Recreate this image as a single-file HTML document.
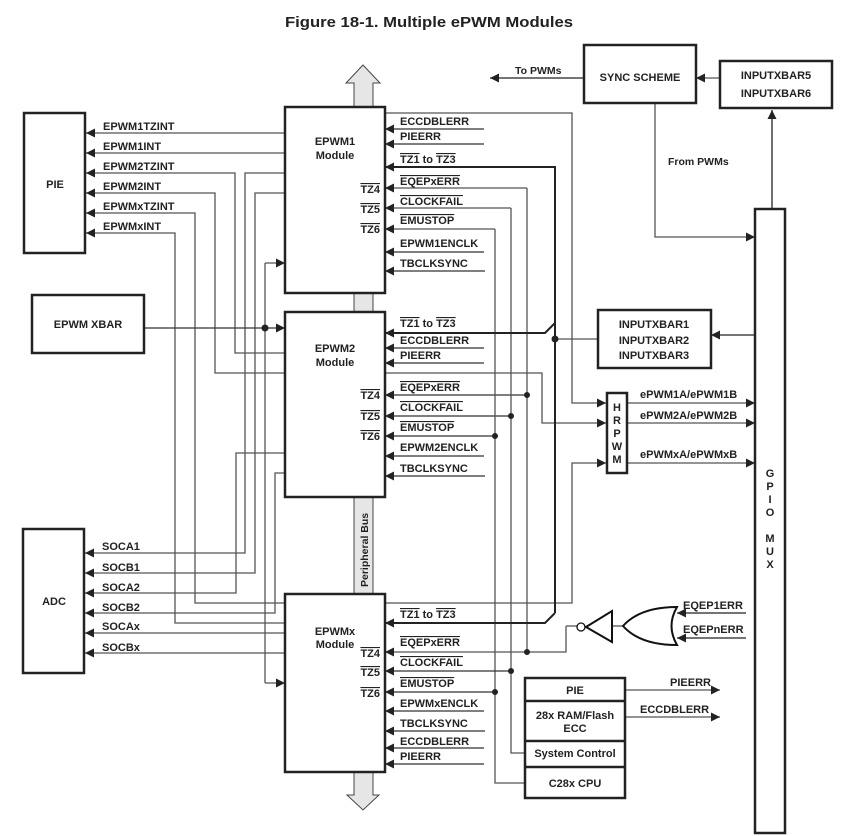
<!DOCTYPE html>
<html><head><meta charset="utf-8"><style>
html,body{margin:0;padding:0;background:#fff;}
svg{display:block;}
text{font-family:"Liberation Sans",Arial,sans-serif;font-weight:bold;font-size:11px;fill:#222;}
.ol{text-decoration:overline;}
</style></head><body>
<svg width="847" height="836" viewBox="0 0 847 836" xmlns="http://www.w3.org/2000/svg">
<defs>
<marker id="a" viewBox="0 0 10 10" refX="10" refY="5" markerWidth="9" markerHeight="9" markerUnits="userSpaceOnUse" orient="auto"><path d="M0,0L10,5L0,10z" fill="#222"/></marker>
</defs>
<text x="285" y="27" textLength="288" lengthAdjust="spacingAndGlyphs" style="font-size:15px" fill="#000">Figure 18-1. Multiple ePWM Modules</text>

<!-- peripheral bus -->
<path d="M363,65 L346,83 L354,83 L354,795 L347,795 L363,810 L379,795 L373,795 L373,83 L380,83 Z" fill="#e6e6e6" stroke="#444" stroke-width="1"/>
<text transform="translate(368,587) rotate(-90)" style="font-size:10.5px">Peripheral Bus</text>

<g fill="none" stroke="#555" stroke-width="1.3">
<path d="M285,133H86" marker-end="url(#a)"/>
<path d="M285,153H86" marker-end="url(#a)"/>
<path d="M285,353H235V173H86" marker-end="url(#a)"/>
<path d="M285,373H215V193H86" marker-end="url(#a)"/>
<path d="M285,603H195V213H86" marker-end="url(#a)"/>
<path d="M285,623H175V233H86" marker-end="url(#a)"/>
<path d="M285,173H245V553H85" marker-end="url(#a)"/>
<path d="M285,193H255V573H85" marker-end="url(#a)"/>
<path d="M285,453H236V593H85" marker-end="url(#a)"/>
<path d="M285,473H275V613H85" marker-end="url(#a)"/>
<path d="M285,633H85" marker-end="url(#a)"/>
<path d="M285,653H85" marker-end="url(#a)"/>
<path d="M144,328H285" marker-end="url(#a)" stroke="#333"/>
<path d="M265,263V683" />
<path d="M265,263H285" marker-end="url(#a)"/>
<path d="M265,683H285" marker-end="url(#a)"/>

<path d="M484,129H385" marker-end="url(#a)" stroke="#333"/>
<path d="M484,144H385" marker-end="url(#a)" stroke="#333"/>
<path d="M527,188H385" marker-end="url(#a)"/>
<path d="M511,208H385" marker-end="url(#a)"/>
<path d="M495,229H385" marker-end="url(#a)"/>
<path d="M484,252H385" marker-end="url(#a)" stroke="#333"/>
<path d="M485,271H385" marker-end="url(#a)" stroke="#333"/>
<path d="M484,348H385" marker-end="url(#a)" stroke="#333"/>
<path d="M484,363H385" marker-end="url(#a)" stroke="#333"/>
<path d="M527,395H385" marker-end="url(#a)" stroke="#333"/>
<path d="M511,416H385" marker-end="url(#a)" stroke="#333"/>
<path d="M495,436H385" marker-end="url(#a)" stroke="#333"/>
<path d="M484,456H385" marker-end="url(#a)" stroke="#333"/>
<path d="M485,476H385" marker-end="url(#a)" stroke="#333"/>
<path d="M566,626V652H385" marker-end="url(#a)"/>
<path d="M527,188V652"/>
<path d="M511,208V753H525"/>
<path d="M495,229V783H525"/>
<path d="M511,671H385" marker-end="url(#a)" stroke="#333"/>
<path d="M495,692H385" marker-end="url(#a)" stroke="#333"/>
<path d="M484,711H385" marker-end="url(#a)" stroke="#333"/>
<path d="M485,731H385" marker-end="url(#a)" stroke="#333"/>
<path d="M484,748H385" marker-end="url(#a)" stroke="#333"/>
<path d="M484,764H385" marker-end="url(#a)" stroke="#333"/>
<path d="M566,626H577"/>

<path d="M385,113H572V403H606" marker-end="url(#a)"/>
<path d="M385,373H542V423H606" marker-end="url(#a)"/>
<path d="M385,603H572V463H606" marker-end="url(#a)"/>
<path d="M627,403H755" marker-end="url(#a)"/>
<path d="M627,423H755" marker-end="url(#a)"/>
<path d="M627,463H755" marker-end="url(#a)"/>

<path d="M755,335H711" marker-end="url(#a)" stroke="#222"/>
<path d="M598,339H555"/>

<path d="M584,78H490" marker-end="url(#a)" stroke="#222"/>
<path d="M720,78H696" marker-end="url(#a)"/>
<path d="M655,103V237H755" marker-end="url(#a)"/>
<path d="M772,209V110" marker-end="url(#a)" stroke="#222"/>

<path d="M625,690H720" marker-end="url(#a)"/>
<path d="M625,717H720" marker-end="url(#a)"/>
<path d="M746,613H677" marker-end="url(#a)" stroke="#222"/>
<path d="M746,638H677" marker-end="url(#a)" stroke="#222"/>
<path d="M612,626H623"/>
</g>

<g fill="none" stroke="#222" stroke-width="2">
<path d="M555,613V167H385" marker-end="url(#a)"/>
<path d="M555,323L545,333H385" marker-end="url(#a)"/>
<path d="M555,613L545,623H385" marker-end="url(#a)"/>
</g>
<g fill="#222">
<circle cx="265" cy="328" r="3.5"/>
<circle cx="555" cy="339" r="3.5"/>
<circle cx="527" cy="395" r="3"/>
<circle cx="511" cy="416" r="3"/>
<circle cx="495" cy="436" r="3"/>
<circle cx="527" cy="652" r="3"/>
<circle cx="511" cy="671" r="3"/>
<circle cx="495" cy="692" r="3"/>
</g>

<g fill="#fff" stroke="#111" stroke-width="2">
<circle cx="581" cy="627" r="4" stroke-width="1.3"/>
<path d="M586,627L612,611V642Z"/>
<path d="M623,626 Q640,607 677,607 Q666,626 677,645 Q640,645 623,626Z"/>
</g>

<g fill="#fff" stroke="#222" stroke-width="2.5">
<rect x="24" y="113" width="61" height="140"/>
<rect x="32" y="295" width="112" height="58"/>
<rect x="23" y="529" width="61" height="144"/>
<rect x="285" y="107" width="100" height="186"/>
<rect x="285" y="312" width="100" height="185"/>
<rect x="285" y="594" width="100" height="178"/>
<rect x="607" y="393" width="20" height="80"/>
<rect x="598" y="310" width="113" height="58"/>
<rect x="584" y="45" width="112" height="58"/>
<rect x="720" y="61" width="112" height="47"/>
<rect x="755" y="209" width="30" height="624"/>
<rect x="525" y="678" width="100" height="120"/>
<path d="M525,701H625M525,741H625M525,767H625" fill="none"/>
</g>

<g text-anchor="middle">
<text x="55" y="188">PIE</text>
<text x="88" y="328">EPWM XBAR</text>
<text x="54" y="605">ADC</text>
<text x="335" y="145">EPWM1</text><text x="335" y="159">Module</text>
<text x="335" y="352">EPWM2</text><text x="335" y="366">Module</text>
<text x="335" y="635">EPWMx</text><text x="335" y="648">Module</text>
<text x="654" y="328">INPUTXBAR1</text><text x="654" y="344">INPUTXBAR2</text><text x="654" y="359">INPUTXBAR3</text>
<text x="640" y="81">SYNC SCHEME</text>
<text x="776" y="79">INPUTXBAR5</text><text x="776" y="97">INPUTXBAR6</text>
<text x="575" y="694">PIE</text>
<text x="575" y="719">28x RAM/Flash</text><text x="575" y="732">ECC</text>
<text x="575" y="757">System Control</text>
<text x="575" y="787">C28x CPU</text>
<text x="617" y="411">H</text><text x="617" y="424">R</text><text x="617" y="437">P</text><text x="617" y="450">W</text><text x="617" y="463">M</text>
<text x="770" y="477">G</text><text x="770" y="490">P</text><text x="770" y="503">I</text><text x="770" y="516">O</text>
<text x="770" y="542">M</text><text x="770" y="555">U</text><text x="770" y="568">X</text>
</g>

<g>
<text x="103" y="130">EPWM1TZINT</text>
<text x="103" y="150">EPWM1INT</text>
<text x="103" y="170">EPWM2TZINT</text>
<text x="103" y="190">EPWM2INT</text>
<text x="103" y="210">EPWMxTZINT</text>
<text x="103" y="230">EPWMxINT</text>
<text x="102" y="550">SOCA1</text>
<text x="102" y="571">SOCB1</text>
<text x="102" y="591">SOCA2</text>
<text x="102" y="611">SOCB2</text>
<text x="102" y="630">SOCAx</text>
<text x="102" y="651">SOCBx</text>
</g>

<g text-anchor="end">
<text x="380" y="193" class="ol">TZ4</text><text x="380" y="213" class="ol">TZ5</text><text x="380" y="233" class="ol">TZ6</text>
<text x="380" y="399" class="ol">TZ4</text><text x="380" y="420" class="ol">TZ5</text><text x="380" y="440" class="ol">TZ6</text>
<text x="380" y="657" class="ol">TZ4</text><text x="380" y="676" class="ol">TZ5</text><text x="380" y="697" class="ol">TZ6</text>
</g>

<g>
<text x="400" y="125">ECCDBLERR</text>
<text x="400" y="140">PIEERR</text>
<text x="400" y="163"><tspan class="ol">TZ1</tspan> to <tspan class="ol">TZ3</tspan></text>
<text x="400" y="185" class="ol">EQEPxERR</text>
<text x="400" y="205" class="ol">CLOCKFAIL</text>
<text x="400" y="224" class="ol">EMUSTOP</text>
<text x="400" y="247">EPWM1ENCLK</text>
<text x="400" y="267">TBCLKSYNC</text>

<text x="400" y="327"><tspan class="ol">TZ1</tspan> to <tspan class="ol">TZ3</tspan></text>
<text x="400" y="344">ECCDBLERR</text>
<text x="400" y="359">PIEERR</text>
<text x="400" y="391" class="ol">EQEPxERR</text>
<text x="400" y="411" class="ol">CLOCKFAIL</text>
<text x="400" y="431" class="ol">EMUSTOP</text>
<text x="400" y="451">EPWM2ENCLK</text>
<text x="400" y="472">TBCLKSYNC</text>

<text x="400" y="618"><tspan class="ol">TZ1</tspan> to <tspan class="ol">TZ3</tspan></text>
<text x="400" y="646" class="ol">EQEPxERR</text>
<text x="400" y="666" class="ol">CLOCKFAIL</text>
<text x="400" y="687" class="ol">EMUSTOP</text>
<text x="400" y="707">EPWMxENCLK</text>
<text x="400" y="727">TBCLKSYNC</text>
<text x="400" y="745">ECCDBLERR</text>
<text x="400" y="760">PIEERR</text>

<text x="640" y="398">ePWM1A/ePWM1B</text>
<text x="640" y="419">ePWM2A/ePWM2B</text>
<text x="640" y="458">ePWMxA/ePWMxB</text>
<text x="515" y="74" style="font-size:10.5px">To PWMs</text>
<text x="668" y="165" style="font-size:10.5px">From PWMs</text>
<text x="683" y="609">EQEP1ERR</text>
<text x="683" y="633">EQEPnERR</text>
<text x="670" y="686">PIEERR</text>
<text x="640" y="713">ECCDBLERR</text>
</g>
</svg>
</body></html>
